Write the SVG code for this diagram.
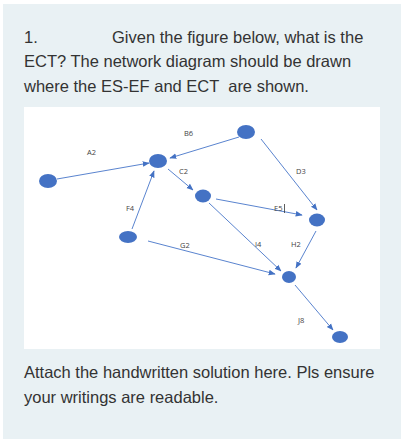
<svg xmlns="http://www.w3.org/2000/svg" width="408" height="440" viewBox="0 0 408 440">
<style>
.q{font-family:"Liberation Sans",Arial,sans-serif;font-size:16.5px;fill:#333;white-space:pre}
.lbl{font-family:"Open Sans","Liberation Sans",sans-serif;font-size:7.5px;fill:#444}
.n{fill:#4472C4}
.e{stroke:#5a84cf;stroke-width:1;fill:none;marker-end:url(#ah)}
</style>
<defs>
<marker id="ah" viewBox="0 0 10 10" refX="9" refY="5" markerWidth="7" markerHeight="7" markerUnits="userSpaceOnUse" orient="auto">
<path d="M0,1 L10,5 L0,9 z" fill="#4472C4"/>
</marker>
</defs>
<rect x="0" y="0" width="408" height="440" fill="#ffffff"/>
<rect x="3" y="4" width="398" height="435" fill="#e9f1f4"/>
<text class="q" x="24" y="43">1.</text>
<text class="q" x="112" y="43">Given the figure below, what is the</text>
<text class="q" x="24" y="67">ECT? The network diagram should be drawn</text>
<text class="q" x="24" y="92" xml:space="preserve">where the ES-EF and ECT  are shown.</text>
<rect x="24" y="107" width="356" height="242" fill="#ffffff"/>
<g id="edges">
<line class="e" x1="57" y1="179" x2="149" y2="163"/>
<line class="e" x1="239" y1="137" x2="170" y2="158"/>
<line class="e" x1="168" y1="169" x2="193" y2="190"/>
<line class="e" x1="132" y1="229" x2="154" y2="171"/>
<line class="e" x1="148" y1="241" x2="275" y2="274"/>
<line class="e" x1="261" y1="139" x2="317" y2="210"/>
<line class="e" x1="216" y1="199" x2="302" y2="215"/>
<line class="e" x1="209" y1="203" x2="281" y2="271"/>
<line class="e" x1="316" y1="231" x2="296" y2="268"/>
<line class="e" x1="295" y1="285" x2="333" y2="330"/>
</g>
<g id="labels">
<text class="lbl" x="87" y="155">A2</text>
<text class="lbl" x="184" y="136">B6</text>
<text class="lbl" x="179" y="174">C2</text>
<text class="lbl" x="126" y="211">F4</text>
<text class="lbl" x="180" y="248">G2</text>
<text class="lbl" x="296" y="174">D3</text>
<text class="lbl" x="274" y="211">E5</text>
<line x1="284.5" y1="204" x2="284.5" y2="213" stroke="#333" stroke-width="0.8"/>
<text class="lbl" x="255" y="247">I4</text>
<text class="lbl" x="291" y="247">H2</text>
<text class="lbl" x="298" y="323">J8</text>
</g>
<g id="n1"><ellipse class="n" cx="48" cy="181" rx="9" ry="7"/></g>
<g id="n2"><ellipse class="n" cx="158" cy="161" rx="9" ry="7"/></g>
<g id="n3"><ellipse class="n" cx="203" cy="196" rx="8" ry="6.5"/></g>
<g id="n4"><ellipse class="n" cx="128" cy="237" rx="9" ry="6"/></g>
<g id="n5"><ellipse class="n" cx="246" cy="132" rx="9" ry="7"/></g>
<g id="n6"><ellipse class="n" cx="317" cy="220" rx="8" ry="6.5"/></g>
<g id="n7"><ellipse class="n" cx="289" cy="277" rx="7" ry="6"/></g>
<g id="n8"><ellipse class="n" cx="340" cy="337" rx="8" ry="6"/></g>
<text class="q" x="24" y="378">Attach the handwritten solution here. Pls ensure</text>
<text class="q" x="24" y="403">your writings are readable.</text>
</svg>
